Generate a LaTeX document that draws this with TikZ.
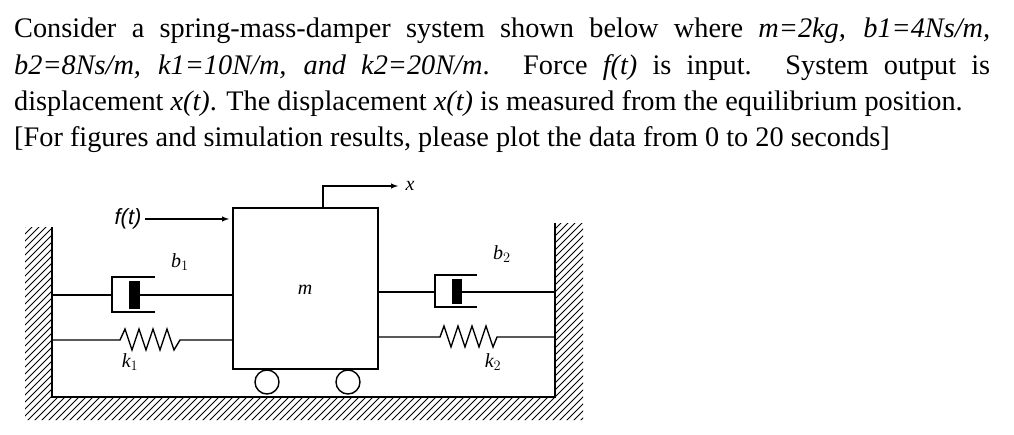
\documentclass[tikz,border=0pt]{standalone}
\usepackage{fontspec}
\setmainfont{Liberation Serif}
\setsansfont{Liberation Sans}
\begin{document}
\begin{tikzpicture}[x=1pt,y=-1pt,
  ln/.style={line width=1.4pt},
  lbl/.style={font=\fontsize{20}{20}\selectfont\itshape},
  txt/.style={anchor=base west,inner sep=0pt,font=\fontsize{28.3}{30}\selectfont}]
\useasboundingbox (0,0) rectangle (1014,434);
\node[txt] (l1) at (14,37) {\makebox[976pt][s]{Consider a spring-mass-damper system shown below where \textit{m=2kg, b1=4Ns/m,}}};
\node[txt] (l2) at (14,74) {\makebox[976pt][s]{\textit{b2=8Ns/m, k1=10N/m, and k2=20N/m}. Force \textit{f(t)} is input. System output is}};
\node[txt] (l3) at (14,110) {displacement \textit{x(t)}. The displacement \textit{x(t)} is measured from the equilibrium position.};
\node[txt] (l4) at (14,146) {[For figures and simulation results, please plot the data from 0 to 20 seconds]};
% hatching
\begin{scope}
\clip (25,227) rectangle (52,397) (25,397) rectangle (583,420) (555,223) rectangle (583,397);
\foreach \i in {-300,-293,...,840} \draw[line width=1pt] (\i,440) -- ++(300,-300);
\end{scope}
\draw[ln] (52,227) -- (52,397) -- (555,397) -- (555,223);
% mass
\node[draw,ln,minimum width=145pt,minimum height=161pt,inner sep=0pt] (m) at (305.5,288.5) {};
\node[lbl] at (305,290) {m};
\draw[ln] (267,382) circle (12) (348,382) circle (12);
% f(t)
\node[font=\sffamily\fontsize{22}{22}\selectfont\itshape] (f) at (128,219) {f(t)};
\draw[ln,-latex] (f.east) -- (229,219);
% x
\coordinate (xa) at (323,208);
\draw[ln,-latex] (xa) -- (323,186) -- (398,186);
\node[lbl] (x) at (410,186) {x};
% b1 damper
\draw[ln] (52,295) -- (112,295);
\draw[ln] (155,277) -- (112,277) -- (112,312) -- (155,312);
\fill (129,281) rectangle (140,309);
\draw[ln] (140,295) -- (233,295);
\node[lbl] at (180,262) {b$_1$};
% k1
\draw[ln] (52,340) -- (120,340) -- (125,329) -- (132,350) -- (139,329) -- (146,350) -- (153,329) -- (160,350) -- (167,329) -- (174,350) -- (180,340) -- (233,340);
\node[lbl] at (130,362) {k$_1$};
% b2 damper
\draw[ln] (378,292) -- (435,292);
\draw[ln] (477,275) -- (435,275) -- (435,307) -- (477,307);
\fill (452,279) rectangle (462,304);
\draw[ln] (462,292) -- (555,292);
\node[lbl] at (502,254) {b$_2$};
% k2
\draw[ln] (378,337) -- (440,337) -- (444,326) -- (451,347) -- (458,326) -- (465,347) -- (472,326) -- (479,347) -- (486,326) -- (493,347) -- (497,337) -- (555,337);
\node[lbl] at (493,362) {k$_2$};
\end{tikzpicture}
\end{document}
